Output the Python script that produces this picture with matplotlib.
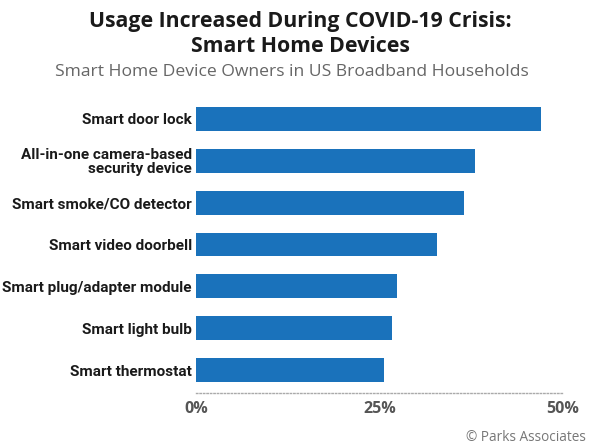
import matplotlib
matplotlib.use("Agg")
import matplotlib.pyplot as plt
from matplotlib import font_manager

categories = ["Smart door lock", "All-in-one camera-based\nsecurity device",
              "Smart smoke/CO detector", "Smart video doorbell",
              "Smart plug/adapter module", "Smart light bulb", "Smart thermostat"]
values = [47.0, 38.0, 36.5, 32.8, 27.4, 26.7, 25.6]
tick_vals = [0, 25, 50]
tick_labels = ["0%", "25%", "50%"]

names = {f.name for f in font_manager.fontManager.ttflist}
narrow = "Liberation Sans Narrow" if "Liberation Sans Narrow" in names else "Roboto"

fig = plt.figure(figsize=(5.98, 4.48), dpi=100)
ax = fig.add_axes([196/598, 1-393/448, (563-196)/598, (393-96)/448])

n = len(categories)
ypos = list(range(n))[::-1]
ax.barh(ypos, values, height=0.57, color="#1a72bb", zorder=2)
ax.set_xlim(0, 50)
ax.set_ylim(-0.54, n-1+0.54)
ax.set_yticks(ypos)
ax.set_yticklabels(categories, fontsize=11, fontweight="bold", family=[narrow, "DejaVu Sans"],
                   color="#1a1a1a", linespacing=1.0)
ax.set_xticks(tick_vals)
ax.set_xticklabels(tick_labels, fontsize=11.5, fontweight="bold", color="#555555", family=["Open Sans", "DejaVu Sans"])
ax.tick_params(axis="both", length=0, pad=3)
ax.tick_params(axis="x", pad=6)
for s in ["top", "right", "left"]:
    ax.spines[s].set_visible(False)
ax.spines["bottom"].set_linestyle((0, (1, 1.5)))
ax.spines["bottom"].set_color("#aaaaaa")
ax.spines["bottom"].set_linewidth(1.0)

fig.text(300/598, 1-21/448, "Usage Increased During COVID-19 Crisis:", ha="center", va="center",
         fontsize=15.3, fontweight="bold", color="#1a1a1a", family=["Open Sans", "DejaVu Sans"])
fig.text(300/598, 1-46/448, "Smart Home Devices", ha="center", va="center",
         fontsize=15.3, fontweight="bold", color="#1a1a1a", family=["Open Sans", "DejaVu Sans"])
fig.text(292/598, 1-72/448, "Smart Home Device Owners in US Broadband Households", ha="center", va="center",
         fontsize=12.6, color="#666666", family=["Open Sans", "DejaVu Sans"])
fig.text(586/598, 1-437/448, "© Parks Associates", ha="right", va="center",
         fontsize=9.8, color="#777777", family=["Open Sans", "DejaVu Sans"])

fig.savefig("out.png", dpi=100, facecolor="white")
